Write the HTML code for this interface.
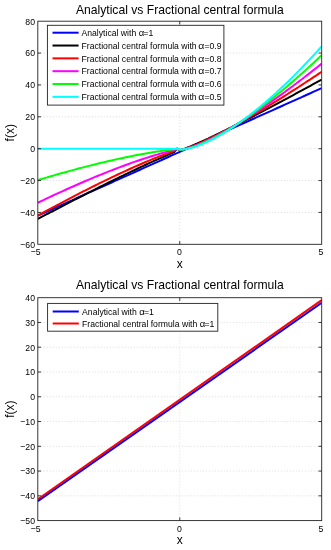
<!DOCTYPE html>
<html><head><meta charset="utf-8"><title>Analytical vs Fractional central formula</title>
<style>
html,body{margin:0;padding:0;background:#fff}
svg{display:block;font-family:"Liberation Sans",sans-serif;fill:#000}
</style></head>
<body>
<svg width="331" height="550" viewBox="0 0 331 550">
<rect width="331" height="550" fill="#fff"/>
<line x1="37.8" y1="53.07" x2="321.7" y2="53.07" stroke="#cecece" stroke-width="0.8" stroke-dasharray="0.9 2.1"/>
<line x1="37.8" y1="84.94" x2="321.7" y2="84.94" stroke="#cecece" stroke-width="0.8" stroke-dasharray="0.9 2.1"/>
<line x1="37.8" y1="116.81" x2="321.7" y2="116.81" stroke="#cecece" stroke-width="0.8" stroke-dasharray="0.9 2.1"/>
<line x1="37.8" y1="148.69" x2="321.7" y2="148.69" stroke="#cecece" stroke-width="0.8" stroke-dasharray="0.9 2.1"/>
<line x1="37.8" y1="180.56" x2="321.7" y2="180.56" stroke="#cecece" stroke-width="0.8" stroke-dasharray="0.9 2.1"/>
<line x1="37.8" y1="212.43" x2="321.7" y2="212.43" stroke="#cecece" stroke-width="0.8" stroke-dasharray="0.9 2.1"/>
<line x1="179.75" y1="21.2" x2="179.75" y2="244.3" stroke="#d2d2d2" stroke-width="0.8" stroke-dasharray="0.9 2.1"/>
<clipPath id="c21"><rect x="37.8" y="21.2" width="283.9" height="223.10000000000002"/></clipPath>
<g clip-path="url(#c21)" fill="none" stroke-width="2.0" stroke-linejoin="bevel">
<polyline points="37.8,215.62 40.64,214.34 43.48,213.07 46.32,211.79 49.16,210.52 51.99,209.24 54.83,207.97 57.67,206.69 60.51,205.42 63.35,204.14 66.19,202.87 69.03,201.59 71.87,200.32 74.71,199.04 77.55,197.77 80.38,196.49 83.22,195.22 86.06,193.94 88.9,192.67 91.74,191.39 94.58,190.12 97.42,188.84 100.26,187.57 103.1,186.29 105.94,185.02 108.77,183.74 111.61,182.47 114.45,181.19 117.29,179.92 120.13,178.64 122.97,177.37 125.81,176.1 128.65,174.82 131.49,173.55 134.33,172.27 137.16,171 140,169.72 142.84,168.45 145.68,167.17 148.52,165.9 151.36,164.62 154.2,163.35 157.04,162.07 159.88,160.8 162.72,159.52 165.56,158.25 168.39,156.97 171.23,155.7 174.07,154.42 176.91,153.15 179.75,151.87 182.59,150.6 185.43,149.32 188.27,148.05 191.11,146.77 193.94,145.5 196.78,144.22 199.62,142.95 202.46,141.67 205.3,140.4 208.14,139.12 210.98,137.85 213.82,136.57 216.66,135.3 219.5,134.02 222.33,132.75 225.17,131.48 228.01,130.2 230.85,128.93 233.69,127.65 236.53,126.38 239.37,125.1 242.21,123.83 245.05,122.55 247.89,121.28 250.72,120 253.56,118.73 256.4,117.45 259.24,116.18 262.08,114.9 264.92,113.63 267.76,112.35 270.6,111.08 273.44,109.8 276.28,108.53 279.11,107.25 281.95,105.98 284.79,104.7 287.63,103.43 290.47,102.15 293.31,100.88 296.15,99.6 298.99,98.33 301.83,97.05 304.67,95.78 307.5,94.5 310.34,93.23 313.18,91.95 316.02,90.68 318.86,89.4 321.7,88.13" stroke="#0000ff"/>
<polyline points="37.8,218.97 40.64,217.47 43.48,215.97 46.32,214.48 49.16,212.99 51.99,211.5 54.83,210.02 57.67,208.53 60.51,207.06 63.35,205.58 66.19,204.11 69.03,202.64 71.87,201.18 74.71,199.72 77.55,198.26 80.38,196.81 83.22,195.36 86.06,193.91 88.9,192.47 91.74,191.04 94.58,189.6 97.42,188.18 100.26,186.75 103.1,185.34 105.94,183.92 108.77,182.51 111.61,181.11 114.45,179.71 117.29,178.32 120.13,176.94 122.97,175.56 125.81,174.18 128.65,172.82 131.49,171.45 134.33,170.1 137.16,168.76 140,167.42 142.84,166.09 145.68,164.77 148.52,163.46 151.36,162.16 154.2,160.87 157.04,159.59 159.88,158.32 162.72,157.06 165.56,155.82 168.39,154.59 171.23,153.37 174.07,152.14 176.91,148.69 179.75,150.38 182.59,149.46 185.43,148.42 188.27,147.3 191.11,146.13 193.94,144.92 196.78,143.69 199.62,142.43 202.46,141.15 205.3,139.85 208.14,138.54 210.98,137.21 213.82,135.87 216.66,134.51 219.5,133.14 222.33,131.77 225.17,130.38 228.01,128.98 230.85,127.58 233.69,126.16 236.53,124.74 239.37,123.31 242.21,121.87 245.05,120.43 247.89,118.98 250.72,117.52 253.56,116.06 256.4,114.59 259.24,113.11 262.08,111.63 264.92,110.15 267.76,108.66 270.6,107.16 273.44,105.66 276.28,104.15 279.11,102.64 281.95,101.13 284.79,99.61 287.63,98.09 290.47,96.56 293.31,95.03 296.15,93.49 298.99,91.95 301.83,90.41 304.67,88.86 307.5,87.31 310.34,85.76 313.18,84.2 316.02,82.64 318.86,81.07 321.7,79.51" stroke="#000000"/>
<polyline points="37.8,215.58 40.64,214.02 43.48,212.47 46.32,210.92 49.16,209.39 51.99,207.86 54.83,206.33 57.67,204.81 60.51,203.3 63.35,201.8 66.19,200.3 69.03,198.81 71.87,197.33 74.71,195.85 77.55,194.39 80.38,192.93 83.22,191.47 86.06,190.03 88.9,188.59 91.74,187.17 94.58,185.75 97.42,184.34 100.26,182.94 103.1,181.55 105.94,180.17 108.77,178.8 111.61,177.44 114.45,176.09 117.29,174.75 120.13,173.42 122.97,172.1 125.81,170.8 128.65,169.5 131.49,168.22 134.33,166.96 137.16,165.71 140,164.47 142.84,163.25 145.68,162.04 148.52,160.85 151.36,159.68 154.2,158.53 157.04,157.4 159.88,156.29 162.72,155.2 165.56,154.14 168.39,153.1 171.23,152.08 174.07,151.05 176.91,148.69 179.75,150.15 182.59,149.52 185.43,148.69 188.27,147.72 191.11,146.67 193.94,145.55 196.78,144.38 199.62,143.15 202.46,141.89 205.3,140.59 208.14,139.25 210.98,137.89 213.82,136.49 216.66,135.07 219.5,133.63 222.33,132.16 225.17,130.67 228.01,129.16 230.85,127.64 233.69,126.09 236.53,124.53 239.37,122.95 242.21,121.35 245.05,119.74 247.89,118.11 250.72,116.47 253.56,114.81 256.4,113.14 259.24,111.46 262.08,109.77 264.92,108.06 267.76,106.34 270.6,104.61 273.44,102.87 276.28,101.12 279.11,99.35 281.95,97.58 284.79,95.79 287.63,94 290.47,92.2 293.31,90.38 296.15,88.56 298.99,86.73 301.83,84.88 304.67,83.03 307.5,81.17 310.34,79.31 313.18,77.43 316.02,75.55 318.86,73.65 321.7,71.75" stroke="#ff0000"/>
<polyline points="37.8,202.74 40.64,201.38 43.48,200.03 46.32,198.68 49.16,197.35 51.99,196.02 54.83,194.7 57.67,193.39 60.51,192.08 63.35,190.79 66.19,189.5 69.03,188.23 71.87,186.96 74.71,185.71 77.55,184.46 80.38,183.22 83.22,182 86.06,180.78 88.9,179.57 91.74,178.38 94.58,177.19 97.42,176.02 100.26,174.86 103.1,173.71 105.94,172.57 108.77,171.44 111.61,170.33 114.45,169.23 117.29,168.14 120.13,167.07 122.97,166.01 125.81,164.97 128.65,163.94 131.49,162.92 134.33,161.92 137.16,160.94 140,159.98 142.84,159.03 145.68,158.1 148.52,157.2 151.36,156.31 154.2,155.44 157.04,154.6 159.88,153.78 162.72,152.99 165.56,152.22 168.39,151.48 171.23,150.77 174.07,150.05 176.91,148.69 179.75,149.92 182.59,149.53 185.43,148.88 188.27,148.06 191.11,147.13 193.94,146.11 196.78,145 199.62,143.83 202.46,142.6 205.3,141.31 208.14,139.97 210.98,138.59 213.82,137.16 216.66,135.69 219.5,134.19 222.33,132.64 225.17,131.07 228.01,129.46 230.85,127.82 233.69,126.15 236.53,124.46 239.37,122.73 242.21,120.98 245.05,119.2 247.89,117.4 250.72,115.57 253.56,113.73 256.4,111.85 259.24,109.96 262.08,108.05 264.92,106.11 267.76,104.15 270.6,102.18 273.44,100.18 276.28,98.17 279.11,96.13 281.95,94.08 284.79,92.01 287.63,89.92 290.47,87.82 293.31,85.7 296.15,83.56 298.99,81.41 301.83,79.24 304.67,77.05 307.5,74.85 310.34,72.63 313.18,70.4 316.02,68.16 318.86,65.9 321.7,63.62" stroke="#ff00ff"/>
<polyline points="37.8,180.13 40.64,179.27 43.48,178.43 46.32,177.59 49.16,176.76 51.99,175.93 54.83,175.12 57.67,174.31 60.51,173.5 63.35,172.71 66.19,171.92 69.03,171.14 71.87,170.36 74.71,169.6 77.55,168.84 80.38,168.09 83.22,167.35 86.06,166.61 88.9,165.89 91.74,165.17 94.58,164.47 97.42,163.77 100.26,163.08 103.1,162.4 105.94,161.73 108.77,161.06 111.61,160.41 114.45,159.77 117.29,159.14 120.13,158.52 122.97,157.91 125.81,157.31 128.65,156.72 131.49,156.15 134.33,155.59 137.16,155.04 140,154.5 142.84,153.97 145.68,153.46 148.52,152.97 151.36,152.49 154.2,152.02 157.04,151.57 159.88,151.14 162.72,150.73 165.56,150.33 168.39,149.96 171.23,149.6 174.07,149.25 176.91,148.69 179.75,149.71 182.59,149.49 185.43,149 188.27,148.33 191.11,147.52 193.94,146.59 196.78,145.57 199.62,144.46 202.46,143.27 205.3,142.01 208.14,140.69 210.98,139.3 213.82,137.86 216.66,136.36 219.5,134.8 222.33,133.2 225.17,131.55 228.01,129.86 230.85,128.12 233.69,126.34 236.53,124.52 239.37,122.66 242.21,120.76 245.05,118.82 247.89,116.85 250.72,114.84 253.56,112.8 256.4,110.73 259.24,108.62 262.08,106.48 264.92,104.31 267.76,102.11 270.6,99.88 273.44,97.61 276.28,95.33 279.11,93.01 281.95,90.66 284.79,88.29 287.63,85.89 290.47,83.46 293.31,81.01 296.15,78.53 298.99,76.03 301.83,73.5 304.67,70.95 307.5,68.38 310.34,65.78 313.18,63.15 316.02,60.51 318.86,57.84 321.7,55.14" stroke="#00ff00"/>
<polyline points="37.8,148.69 40.64,148.69 43.48,148.69 46.32,148.69 49.16,148.69 51.99,148.69 54.83,148.69 57.67,148.69 60.51,148.69 63.35,148.69 66.19,148.69 69.03,148.69 71.87,148.69 74.71,148.69 77.55,148.69 80.38,148.69 83.22,148.69 86.06,148.69 88.9,148.69 91.74,148.69 94.58,148.69 97.42,148.69 100.26,148.69 103.1,148.69 105.94,148.69 108.77,148.69 111.61,148.69 114.45,148.69 117.29,148.69 120.13,148.69 122.97,148.69 125.81,148.69 128.65,148.69 131.49,148.69 134.33,148.69 137.16,148.69 140,148.69 142.84,148.69 145.68,148.69 148.52,148.69 151.36,148.69 154.2,148.69 157.04,148.69 159.88,148.69 162.72,148.69 165.56,148.69 168.39,148.69 171.23,148.69 174.07,148.69 176.91,148.69 179.75,149.52 182.59,149.44 185.43,149.08 188.27,148.53 191.11,147.84 193.94,147.01 196.78,146.08 199.62,145.04 202.46,143.91 205.3,142.69 208.14,141.39 210.98,140.02 213.82,138.57 216.66,137.05 219.5,135.47 222.33,133.83 225.17,132.12 228.01,130.35 230.85,128.53 233.69,126.65 236.53,124.71 239.37,122.73 242.21,120.69 245.05,118.6 247.89,116.46 250.72,114.28 253.56,112.05 256.4,109.77 259.24,107.45 262.08,105.08 264.92,102.67 267.76,100.22 270.6,97.73 273.44,95.19 276.28,92.62 279.11,90 281.95,87.35 284.79,84.66 287.63,81.93 290.47,79.16 293.31,76.35 296.15,73.51 298.99,70.63 301.83,67.72 304.67,64.77 307.5,61.78 310.34,58.76 313.18,55.71 316.02,52.63 318.86,49.51 321.7,46.35" stroke="#00ffff"/>
</g>
<rect x="37.8" y="21.2" width="283.9" height="223.1" fill="none" stroke="#222" stroke-width="0.9"/>
<text transform="translate(35 24.5) scale(1 1.09)" text-anchor="end" font-size="8.7">80</text>
<text transform="translate(35 56.37) scale(1 1.09)" text-anchor="end" font-size="8.7">60</text>
<text transform="translate(35 88.24) scale(1 1.09)" text-anchor="end" font-size="8.7">40</text>
<text transform="translate(35 120.11) scale(1 1.09)" text-anchor="end" font-size="8.7">20</text>
<text transform="translate(35 151.99) scale(1 1.09)" text-anchor="end" font-size="8.7">0</text>
<text transform="translate(35 183.86) scale(1 1.09)" text-anchor="end" font-size="8.7">−20</text>
<text transform="translate(35 215.73) scale(1 1.09)" text-anchor="end" font-size="8.7">−40</text>
<text transform="translate(35 247.6) scale(1 1.09)" text-anchor="end" font-size="8.7">−60</text>
<text transform="translate(35.7 255.3) scale(1 1.09)" text-anchor="middle" font-size="8.7">−5</text>
<text transform="translate(179.45 255.3) scale(1 1.09)" text-anchor="middle" font-size="8.7">0</text>
<text transform="translate(321 255.3) scale(1 1.09)" text-anchor="middle" font-size="8.7">5</text>
<path d="M37.8 53.07h3.2M321.7 53.07h-3.2M37.8 84.94h3.2M321.7 84.94h-3.2M37.8 116.81h3.2M321.7 116.81h-3.2M37.8 148.69h3.2M321.7 148.69h-3.2M37.8 180.56h3.2M321.7 180.56h-3.2M37.8 212.43h3.2M321.7 212.43h-3.2M179.75 244.3v-3.2M179.75 21.2v3.2" stroke="#222" stroke-width="0.9" fill="none"/>
<text transform="translate(179.75 267.9) scale(1 1.09)" text-anchor="middle" font-size="12">x</text>
<text transform="translate(14.2 132.75) rotate(-90) scale(1 1.09)" text-anchor="middle" font-size="12">f(x)</text>
<text transform="translate(179.85 13.5) scale(1 1.09)" text-anchor="middle" font-size="12.16">Analytical vs Fractional central formula</text>
<rect x="47.4" y="25.3" width="176.5" height="79.8" fill="#fff" stroke="#222" stroke-width="0.9"/>
<line x1="52.5" y1="32.7" x2="78.6" y2="32.7" stroke="#0000ff" stroke-width="2.0"/>
<text transform="translate(81.5 36) scale(1 1.09)" text-anchor="start" font-size="8.65">Analytical with <tspan dx="0.1" textLength="5.5" lengthAdjust="spacingAndGlyphs">α</tspan><tspan dx="-0.8">=1</tspan></text>
<line x1="52.5" y1="45.53" x2="78.6" y2="45.53" stroke="#000000" stroke-width="2.0"/>
<text transform="translate(81.5 48.83) scale(1 1.09)" text-anchor="start" font-size="8.65">Fractional central formula with <tspan dx="-0.9" textLength="6.1" lengthAdjust="spacingAndGlyphs">α</tspan><tspan dx="0.2">=0.9</tspan></text>
<line x1="52.5" y1="58.36" x2="78.6" y2="58.36" stroke="#ff0000" stroke-width="2.0"/>
<text transform="translate(81.5 61.66) scale(1 1.09)" text-anchor="start" font-size="8.65">Fractional central formula with <tspan dx="-0.9" textLength="6.1" lengthAdjust="spacingAndGlyphs">α</tspan><tspan dx="0.2">=0.8</tspan></text>
<line x1="52.5" y1="71.19" x2="78.6" y2="71.19" stroke="#ff00ff" stroke-width="2.0"/>
<text transform="translate(81.5 74.49) scale(1 1.09)" text-anchor="start" font-size="8.65">Fractional central formula with <tspan dx="-0.9" textLength="6.1" lengthAdjust="spacingAndGlyphs">α</tspan><tspan dx="0.2">=0.7</tspan></text>
<line x1="52.5" y1="84.02" x2="78.6" y2="84.02" stroke="#00ff00" stroke-width="2.0"/>
<text transform="translate(81.5 87.32) scale(1 1.09)" text-anchor="start" font-size="8.65">Fractional central formula with <tspan dx="-0.9" textLength="6.1" lengthAdjust="spacingAndGlyphs">α</tspan><tspan dx="0.2">=0.6</tspan></text>
<line x1="52.5" y1="96.85" x2="78.6" y2="96.85" stroke="#00ffff" stroke-width="2.0"/>
<text transform="translate(81.5 100.15) scale(1 1.09)" text-anchor="start" font-size="8.65">Fractional central formula with <tspan dx="-0.9" textLength="6.1" lengthAdjust="spacingAndGlyphs">α</tspan><tspan dx="0.2">=0.5</tspan></text>
<line x1="37.8" y1="322.47" x2="321.7" y2="322.47" stroke="#cecece" stroke-width="0.8" stroke-dasharray="0.9 2.1"/>
<line x1="37.8" y1="347.23" x2="321.7" y2="347.23" stroke="#cecece" stroke-width="0.8" stroke-dasharray="0.9 2.1"/>
<line x1="37.8" y1="372" x2="321.7" y2="372" stroke="#cecece" stroke-width="0.8" stroke-dasharray="0.9 2.1"/>
<line x1="37.8" y1="396.77" x2="321.7" y2="396.77" stroke="#cecece" stroke-width="0.8" stroke-dasharray="0.9 2.1"/>
<line x1="37.8" y1="421.53" x2="321.7" y2="421.53" stroke="#cecece" stroke-width="0.8" stroke-dasharray="0.9 2.1"/>
<line x1="37.8" y1="446.3" x2="321.7" y2="446.3" stroke="#cecece" stroke-width="0.8" stroke-dasharray="0.9 2.1"/>
<line x1="37.8" y1="471.07" x2="321.7" y2="471.07" stroke="#cecece" stroke-width="0.8" stroke-dasharray="0.9 2.1"/>
<line x1="37.8" y1="495.83" x2="321.7" y2="495.83" stroke="#cecece" stroke-width="0.8" stroke-dasharray="0.9 2.1"/>
<line x1="179.75" y1="297.7" x2="179.75" y2="520.6" stroke="#d2d2d2" stroke-width="0.8" stroke-dasharray="0.9 2.1"/>
<clipPath id="c297"><rect x="37.8" y="297.7" width="283.9" height="222.90000000000003"/></clipPath>
<g clip-path="url(#c297)" fill="none" stroke-width="2.0" stroke-linejoin="bevel">
<polyline points="37.8,501.16 321.7,302.78" stroke="#0000ff"/>
<polyline points="37.8,499.3 321.7,300.18" stroke="#ff0000"/>
</g>
<rect x="37.8" y="297.7" width="283.9" height="222.9" fill="none" stroke="#222" stroke-width="0.9"/>
<text transform="translate(35 301) scale(1 1.09)" text-anchor="end" font-size="8.7">40</text>
<text transform="translate(35 325.77) scale(1 1.09)" text-anchor="end" font-size="8.7">30</text>
<text transform="translate(35 350.53) scale(1 1.09)" text-anchor="end" font-size="8.7">20</text>
<text transform="translate(35 375.3) scale(1 1.09)" text-anchor="end" font-size="8.7">10</text>
<text transform="translate(35 400.07) scale(1 1.09)" text-anchor="end" font-size="8.7">0</text>
<text transform="translate(35 424.83) scale(1 1.09)" text-anchor="end" font-size="8.7">−10</text>
<text transform="translate(35 449.6) scale(1 1.09)" text-anchor="end" font-size="8.7">−20</text>
<text transform="translate(35 474.37) scale(1 1.09)" text-anchor="end" font-size="8.7">−30</text>
<text transform="translate(35 499.13) scale(1 1.09)" text-anchor="end" font-size="8.7">−40</text>
<text transform="translate(35 523.9) scale(1 1.09)" text-anchor="end" font-size="8.7">−50</text>
<text transform="translate(35.7 531.6) scale(1 1.09)" text-anchor="middle" font-size="8.7">−5</text>
<text transform="translate(179.45 531.6) scale(1 1.09)" text-anchor="middle" font-size="8.7">0</text>
<text transform="translate(321 531.6) scale(1 1.09)" text-anchor="middle" font-size="8.7">5</text>
<path d="M37.8 322.47h3.2M321.7 322.47h-3.2M37.8 347.23h3.2M321.7 347.23h-3.2M37.8 372h3.2M321.7 372h-3.2M37.8 396.77h3.2M321.7 396.77h-3.2M37.8 421.53h3.2M321.7 421.53h-3.2M37.8 446.3h3.2M321.7 446.3h-3.2M37.8 471.07h3.2M321.7 471.07h-3.2M37.8 495.83h3.2M321.7 495.83h-3.2M179.75 520.6v-3.2M179.75 297.7v3.2" stroke="#222" stroke-width="0.9" fill="none"/>
<text transform="translate(179.75 544.2) scale(1 1.09)" text-anchor="middle" font-size="12">x</text>
<text transform="translate(14.2 409.15) rotate(-90) scale(1 1.09)" text-anchor="middle" font-size="12">f(x)</text>
<text transform="translate(179.85 289.2) scale(1 1.09)" text-anchor="middle" font-size="12.16">Analytical vs Fractional central formula</text>
<rect x="47.6" y="303.4" width="170.2" height="27.8" fill="#fff" stroke="#222" stroke-width="0.9"/>
<line x1="52.7" y1="311.5" x2="78.8" y2="311.5" stroke="#0000ff" stroke-width="2.0"/>
<text transform="translate(82.1 315.3) scale(1 1.09)" text-anchor="start" font-size="8.65">Analytical with <tspan dx="0.1" textLength="5.5" lengthAdjust="spacingAndGlyphs">α</tspan><tspan dx="-0.8">=1</tspan></text>
<line x1="52.7" y1="323.5" x2="78.8" y2="323.5" stroke="#ff0000" stroke-width="2.0"/>
<text transform="translate(82.1 327.3) scale(1 1.09)" text-anchor="start" font-size="8.65">Fractional central formula with <tspan dx="0.1" textLength="5.5" lengthAdjust="spacingAndGlyphs">α</tspan><tspan dx="-0.8">=1</tspan></text>
</svg>
</body></html>
